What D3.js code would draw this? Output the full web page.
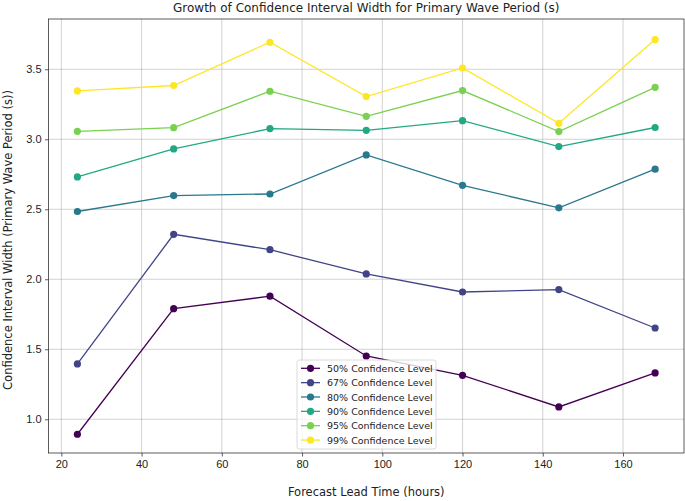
<!DOCTYPE html>
<html>
<head>
<meta charset="utf-8">
<script src="https://cdn.jsdelivr.net/npm/d3@7"></script>
<style>
  body { margin: 0; background: #fff; }
  svg { font-family: "DejaVu Sans", sans-serif; }
</style>
</head>
<body>
<div id="chart"></div>
<script>
// lead times (hours)
const leadTimes = [24, 48, 72, 96, 120, 144, 168];
const levels = ["50%", "67%", "80%", "90%", "95%", "99%"];
const colores = ["#440154", "#414487", "#2a788e", "#22a884", "#7ad151", "#fde725"];

// ancho del intervalo por nivel de confianza
const w50 = [0.893, 1.790, 1.879, 1.452, 1.314, 1.088, 1.331];
const w67 = [1.395, 2.321, 2.211, 2.038, 1.909, 1.926, 1.652];
const w80 = [2.484, 2.598, 2.609, 2.888, 2.671, 2.510, 2.786];
const w90 = [2.731, 2.931, 3.076, 3.064, 3.133, 2.948, 3.084];
const w95 = [3.057, 3.083, 3.343, 3.164, 3.348, 3.055, 3.371];
const w99 = [3.345, 3.384, 3.693, 3.305, 3.509, 3.114, 3.712];

const xTicks = [20, 40, 60, 80, 100, 120, 140, 160];
const yTicks = [1.0, 1.5, 2.0, 2.5, 3.0, 3.5];

const series = [w50, w67, w80, w90, w95, w99].map((vals, i) => ({
    name: levels[i] + " Confidence Level",
    color: colores[i],
    values: vals.map((v, j) => ({ x: leadTimes[j], y: v }))
}));

const svgWidth = 685, svgHeight = 501;
const margin = { top: 19, right: 1, bottom: 48, left: 48.5 };
const width = svgWidth - margin.left - margin.right;
const height = svgHeight - margin.top - margin.bottom;

const svg = d3.select("#chart")
    .append("svg")
    .attr("width", svgWidth)
    .attr("height", svgHeight);

const g = svg.append("g")
    .attr("transform", `translate(${margin.left}, ${margin.top})`);

const x = d3.scaleLinear().domain([16.8, 175.2]).range([0, width]);
const y = d3.scaleLinear().domain([0.759, 3.859]).range([height, 0]);

// Grid
g.append("g")
    .selectAll("line")
    .data(xTicks)
    .enter().append("line")
    .attr("x1", d => x(d)).attr("x2", d => x(d))
    .attr("y1", 0).attr("y2", height)
    .attr("stroke", "#b0b0b0").attr("stroke-width", 0.8).attr("opacity", 0.7);

g.append("g")
    .selectAll("line")
    .data(yTicks)
    .enter().append("line")
    .attr("x1", 0).attr("x2", width)
    .attr("y1", d => y(d)).attr("y2", d => y(d))
    .attr("stroke", "#b0b0b0").attr("stroke-width", 0.8).attr("opacity", 0.7);

// Ejes
const xAxis = g.append("g")
    .attr("transform", `translate(0, ${height})`)
    .call(d3.axisBottom(x).tickValues(xTicks).tickSize(3.5).tickPadding(3.5).tickFormat(d3.format("d")));

const yAxis = g.append("g")
    .call(d3.axisLeft(y).tickValues(yTicks).tickSize(3.5).tickPadding(3.5).tickFormat(d3.format(".1f")));

[xAxis, yAxis].forEach(a => {
    a.select(".domain").remove();
    a.selectAll("line").attr("stroke", "#333").attr("stroke-width", 0.8);
    a.selectAll("text").attr("fill", "#222").style("font-size", "11px");
});

// Marco
g.append("rect")
    .attr("width", width).attr("height", height)
    .attr("fill", "none").attr("stroke", "#333").attr("stroke-width", 0.8);

// Lineas y puntos
const line = d3.line().x(d => x(d.x)).y(d => y(d.y));

series.forEach(s => {
    g.append("path")
        .datum(s.values)
        .attr("d", line)
        .attr("fill", "none")
        .attr("stroke", s.color)
        .attr("stroke-width", 1.3);

    g.selectAll(null)
        .data(s.values)
        .enter().append("circle")
        .attr("cx", d => x(d.x))
        .attr("cy", d => y(d.y))
        .attr("r", 3.6)
        .attr("fill", s.color);
});

// Titulos
svg.append("text")
    .attr("x", margin.left + width / 2).attr("y", 12)
    .attr("text-anchor", "middle")
    .style("font-size", "12px").attr("fill", "#222")
    .text("Growth of Confidence Interval Width for Primary Wave Period (s)");

svg.append("text")
    .attr("x", margin.left + width / 2).attr("y", 496)
    .attr("text-anchor", "middle")
    .style("font-size", "11.5px").attr("fill", "#222")
    .text("Forecast Lead Time (hours)");

svg.append("text")
    .attr("transform", "translate(12, 240) rotate(-90)")
    .attr("text-anchor", "middle")
    .style("font-size", "11.5px").attr("fill", "#222")
    .text("Confidence Interval Width (Primary Wave Period (s))");

// Leyenda
const legend = svg.append("g").attr("transform", "translate(297, 360)");
legend.append("rect")
    .attr("width", 139).attr("height", 89)
    .attr("rx", 2.5)
    .attr("fill", "#fff").attr("fill-opacity", 0.8)
    .attr("stroke", "#d0d0d0").attr("stroke-width", 0.8);

series.forEach((s, i) => {
    const row = legend.append("g").attr("transform", `translate(0, ${8.3 + i * 14.35})`);
    row.append("line").attr("x1", 4).attr("x2", 23).attr("stroke", s.color).attr("stroke-width", 1.3);
    row.append("circle").attr("cx", 13.5).attr("r", 3.6).attr("fill", s.color);
    row.append("text").attr("x", 30).attr("y", 3.5)
        .style("font-size", "9.5px").attr("fill", "#222")
        .text(s.name);
});
</script>
</body>
</html>
